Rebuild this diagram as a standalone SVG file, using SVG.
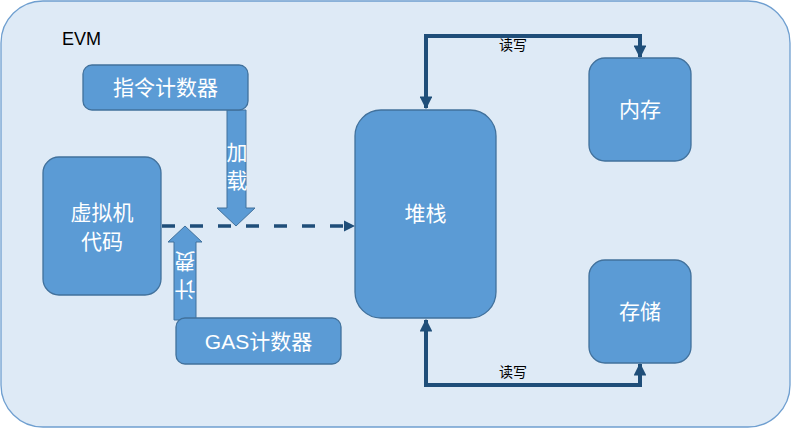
<svg xmlns="http://www.w3.org/2000/svg" width="792" height="429" viewBox="0 0 792 429">
<defs>
<style>
.node{fill:#5b9bd5;stroke:#41719c;stroke-width:1.3}
.nt{fill:#fff;font-family:"Liberation Sans","Noto Sans CJK SC",sans-serif;font-size:21px;text-anchor:middle}
.lbl{fill:#000;font-family:"Liberation Sans","Noto Sans CJK SC",sans-serif;font-size:14px;text-anchor:middle}
.conn{fill:none;stroke:#1f4e79;stroke-width:4}
.blk{fill:#5b9bd5;stroke:#41719c;stroke-width:1}
</style>
<marker id="ah" viewBox="0 0 10 10" refX="9" refY="5" markerWidth="3.2" markerHeight="3.2" orient="auto" markerUnits="strokeWidth">
<path d="M0,0 L10,5 L0,10 z" fill="#1f4e79"/>
</marker>
<marker id="ah2" viewBox="0 0 10 10" refX="9" refY="5" markerWidth="3.2" markerHeight="3.2" orient="auto" markerUnits="strokeWidth">
<path d="M0,0 L10,5 L0,10 z" fill="#1f4e79"/>
</marker>
</defs>
<g id="evm">
<rect x="1" y="1" width="789" height="426" rx="42" fill="#deeaf6" stroke="#6f9fd0" stroke-width="1.3"/>
<text x="62" y="45" font-family="Liberation Sans,sans-serif" font-size="18" fill="#000">EVM</text>
</g>
<g id="connectors">
<line x1="162" y1="226" x2="354" y2="226" stroke="#1f4e79" stroke-width="3.5" stroke-dasharray="13,15" marker-end="url(#ah2)"/>
<path class="conn" d="M426,36 H640 V57" marker-end="url(#ah)"/>
<path class="conn" d="M426,34 V108" marker-end="url(#ah)"/>
<path class="conn" d="M426,385 H640 V364" marker-end="url(#ah)"/>
<path class="conn" d="M426,387 V320" marker-end="url(#ah)"/>
<text class="lbl" x="513" y="50">读写</text>
<text class="lbl" x="513" y="377">读写</text>
</g>
<g id="load-arrow">
<path class="blk" d="M227,110 H246 V208 H255 L236,226 L217,208 H227 Z"/>
<text class="nt" x="237" y="160">加</text>
<text class="nt" x="237" y="188">载</text>
</g>
<g id="fee-arrow">
<path class="blk" d="M174,320 V242 H168 L185,226 L202,242 H196 V320 Z"/>
<g transform="rotate(180 185 276)">
<text class="nt" x="185" y="270">计</text>
<text class="nt" x="185" y="298">费</text>
</g>
</g>
<g id="pc">
<rect class="node" x="83" y="65" width="165" height="45" rx="9"/>
<text class="nt" x="165.5" y="95">指令计数器</text>
</g>
<g id="code">
<rect class="node" x="43" y="157" width="118" height="138" rx="16"/>
<text class="nt" x="102" y="220">虚拟机</text>
<text class="nt" x="102" y="249">代码</text>
</g>
<g id="gas">
<rect class="node" x="176" y="318" width="165" height="46" rx="9"/>
<text class="nt" x="258.5" y="349">GAS计数器</text>
</g>
<g id="stack">
<rect class="node" x="355" y="110" width="141" height="208" rx="26"/>
<text class="nt" x="425.5" y="221">堆栈</text>
</g>
<g id="memory">
<rect class="node" x="589" y="58" width="102" height="103" rx="16"/>
<text class="nt" x="640" y="117">内存</text>
</g>
<g id="storage">
<rect class="node" x="589" y="260" width="102" height="103" rx="16"/>
<text class="nt" x="640" y="319">存储</text>
</g>
</svg>
